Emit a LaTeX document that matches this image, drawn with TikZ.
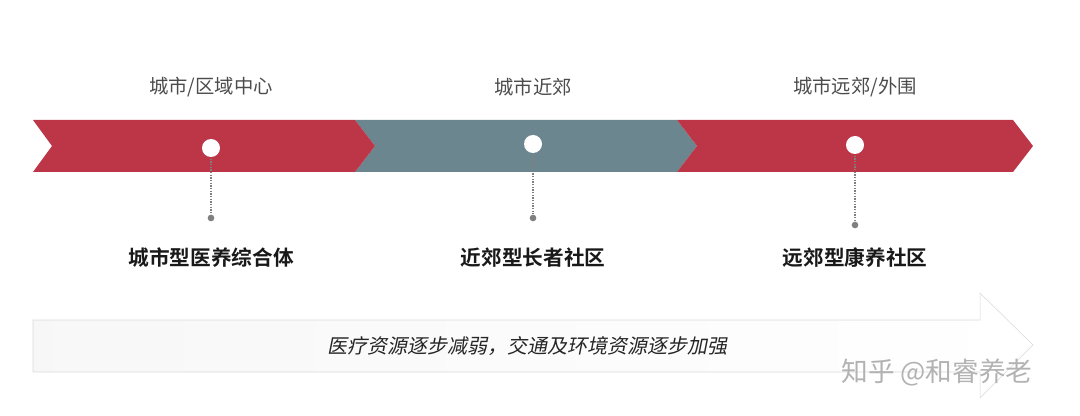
\documentclass[tikz,border=0pt]{standalone}
\usepackage{fontspec}
\setmainfont{Noto Sans CJK SC}
\newfontfamily\cjkb{Noto Sans CJK SC Bold}
\newfontfamily\cjki[FakeSlant=0.2]{Noto Sans CJK SC}
\begin{document}
\begin{tikzpicture}[x=0.75pt,y=-0.75pt,
  toplab/.style={font=\fontsize{14.5}{15}\selectfont, text=black!70},
  botlab/.style={font=\cjkb\fontsize{15.5}{16}\selectfont, text=black!90},
  wdot/.style={circle,fill=white,inner sep=0pt,minimum size=13.5pt},
  gdot/.style={circle,fill=gray,inner sep=0pt,minimum size=5pt}]
\definecolor{cred}{HTML}{BC3648}
\definecolor{cgray}{HTML}{6B868E}
\useasboundingbox (0,0) rectangle (1080,416);
\fill[cgray] (355,120) -- (677,120) -- (697,146) -- (677,172) -- (355,172) -- (375,146) -- cycle;
\fill[cred] (33,120) -- (355,120) -- (375,146) -- (355,172) -- (33,172) -- (52,146) -- cycle;
\fill[cred] (677,120) -- (1013,120) -- (1033,146) -- (1013,172) -- (677,172) -- (697,146) -- cycle;
\foreach \n/\x/\y/\g/\t/\b in {a/211/148/218/{城市/区域中心}/城市型医养综合体, b/533/144/218/城市近郊/近郊型长者社区, c/855/145/225/{城市远郊/外围}/远郊型康养社区}{
  \node[toplab] (t\n) at (\x,87) {\t};
  \node[gdot] (g\n) at (\x,\g) {};
  \draw[gray,densely dotted,line width=1pt] (\x,\y) -- (g\n);
  \node[wdot] (w\n) at (\x,\y) {};
  \node[botlab] (b\n) at (\x,258) {\b};
}
\shade[left color=black!3,right color=white,draw=black!15]
  (33,320) -- (980,320) -- (980,293) -- (1033,345) -- (980,398) -- (980,372) -- (33,372) -- cycle;
\node[font=\cjki\fontsize{15}{16}\selectfont, text=black!85] (arr) at (527,346) {医疗资源逐步减弱，交通及环境资源逐步加强};
\node[font=\fontsize{20}{21}\selectfont, text=black!30] (wm) at (937,372) {知乎 @和睿养老};
\end{tikzpicture}
\end{document}
